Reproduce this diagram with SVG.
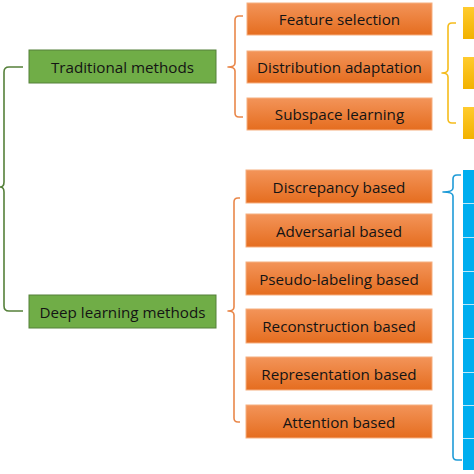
<svg xmlns="http://www.w3.org/2000/svg" width="474" height="474" viewBox="0 0 474 474">
<defs>
<linearGradient id="og" x1="0" y1="0" x2="0" y2="1">
<stop offset="0" stop-color="#F39459"/>
<stop offset="1" stop-color="#E56D1F"/>
</linearGradient>
<linearGradient id="yg" x1="0" y1="0" x2="0" y2="1">
<stop offset="0" stop-color="#FFCB2E"/>
<stop offset="1" stop-color="#F2B200"/>
</linearGradient>
<style>
.g{fill:#70AD47;stroke:#55803A;stroke-width:1}
.o{fill:url(#og);stroke:#F6AF80;stroke-width:1}
.y{fill:url(#yg)}
.b{fill:#00AEEF}
.t{font-family:"Open Sans","Liberation Sans",sans-serif;font-size:15.2px;fill:#141414;text-anchor:middle;dominant-baseline:central}
.br{fill:none;stroke-width:1.6;stroke-linejoin:round}
</style>
</defs>
<g id="connectors">
<path class="br" stroke="#55803A" d="M23,67 L9,67 Q4,67 4,72 L4,182 Q4,187 0,187 Q4,187 4,192 L4,306 Q4,311 9,311 L23,311"/>
<path class="br" stroke="#E9874A" d="M243,16 L239,16 Q235,16 235,20 L235,63 Q235,67 228,67 Q235,67 235,71 L235,113 Q235,117 239,117 L243,117"/>
<path class="br" stroke="#E9874A" d="M240,198 L238,198 Q234,198 234,202 L234,307 Q234,311 228,311 Q234,311 234,315 L234,418 Q234,422 238,422 L240,422"/>
<path class="br" stroke="#F5BC1C" d="M456,23 L452,23 Q448,23 448,27 L448,69 Q448,73 442,73 Q448,73 448,77 L448,119 Q448,123 452,123 L456,123"/>
<path class="br" stroke="#1E9BD7" d="M461,175 L457,175 Q453,175 453,179 L453,188 Q453,192 443,192 Q453,192 453,196 L453,456 Q453,460 457,460 L462,460"/>
</g>
<g id="traditional"><rect class="g" x="29" y="50" width="187" height="33"/><text class="t" x="122.5" y="67">Traditional methods</text></g>
<g id="deep"><rect class="g" x="29" y="295" width="187" height="33"/><text class="t" x="122.5" y="312">Deep learning methods</text></g>
<g id="feature"><rect class="o" x="247" y="3" width="185" height="32"/><text class="t" x="339.5" y="19">Feature selection</text></g>
<g id="distribution"><rect class="o" x="247" y="51" width="185" height="32"/><text class="t" x="339.5" y="67">Distribution adaptation</text></g>
<g id="subspace"><rect class="o" x="247" y="98" width="185" height="32"/><text class="t" x="339.5" y="114">Subspace learning</text></g>
<g id="discrepancy"><rect class="o" x="246" y="170" width="186" height="33"/><text class="t" x="339" y="187">Discrepancy based</text></g>
<g id="adversarial"><rect class="o" x="246" y="214" width="186" height="33"/><text class="t" x="339" y="231">Adversarial based</text></g>
<g id="pseudo"><rect class="o" x="246" y="262" width="186" height="33"/><text class="t" x="339" y="279">Pseudo-labeling based</text></g>
<g id="reconstruction"><rect class="o" x="246" y="309" width="186" height="34"/><text class="t" x="339" y="326">Reconstruction based</text></g>
<g id="representation"><rect class="o" x="246" y="357" width="186" height="33"/><text class="t" x="339" y="374">Representation based</text></g>
<g id="attention"><rect class="o" x="246" y="405" width="186" height="33"/><text class="t" x="339" y="422">Attention based</text></g>
<g id="yellow1"><rect class="y" x="463" y="7" width="12" height="32"/></g>
<g id="yellow2"><rect class="y" x="463" y="57" width="12" height="32"/></g>
<g id="yellow3"><rect class="y" x="463" y="107" width="12" height="32"/></g>
<g id="blue">
<rect class="b" x="463" y="170" width="12" height="300"/>
<g stroke="#BFE9FA" stroke-width="1">
<line x1="463" y1="203.5" x2="474" y2="203.5"/>
<line x1="463" y1="237.5" x2="474" y2="237.5"/>
<line x1="463" y1="271.5" x2="474" y2="271.5"/>
<line x1="463" y1="304.5" x2="474" y2="304.5"/>
<line x1="463" y1="338.5" x2="474" y2="338.5"/>
<line x1="463" y1="372.5" x2="474" y2="372.5"/>
<line x1="463" y1="405.5" x2="474" y2="405.5"/>
<line x1="463" y1="438.5" x2="474" y2="438.5"/>
</g>
</g>
</svg>
